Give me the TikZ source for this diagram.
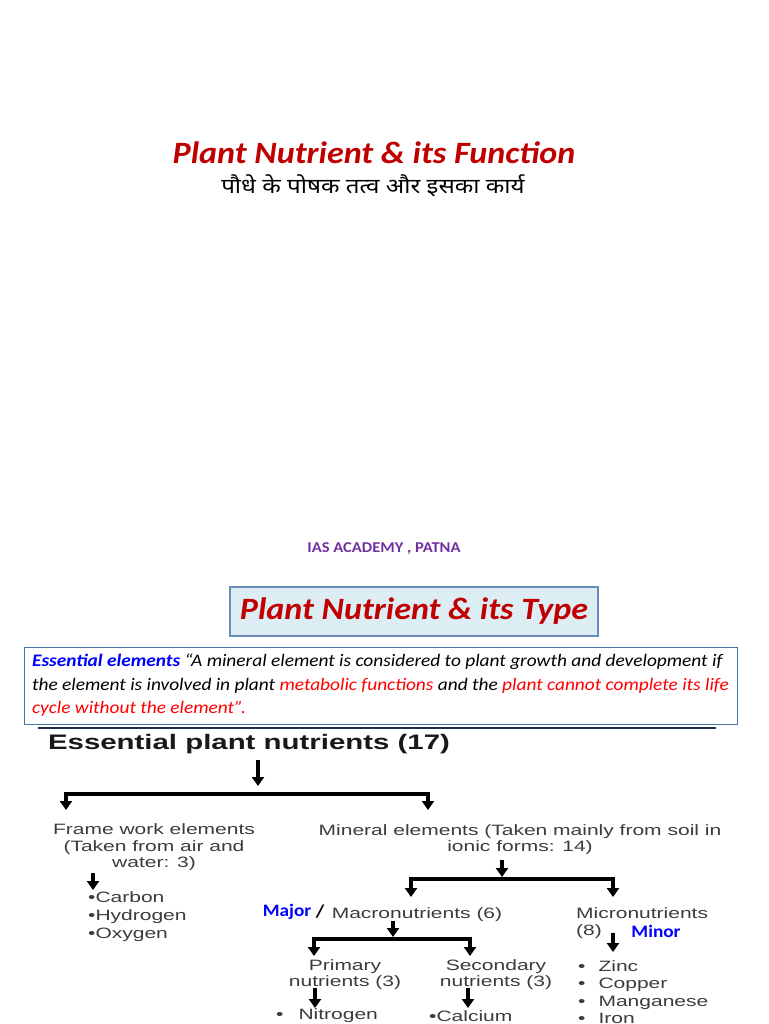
\documentclass[tikz,border=0pt]{standalone}
\usepackage{fontspec}
\setmainfont{Carlito}[FakeStretch=1.1]
\newfontfamily\arialw[FakeStretch=1.4]{Liberation Sans}
\newfontfamily\deva[Script=Devanagari,FakeStretch=1.15]{Noto Sans}
\usetikzlibrary{arrows.meta}
\definecolor{titlered}{HTML}{C00000}
\definecolor{purp}{HTML}{7030A0}
\definecolor{boxblue}{HTML}{6A8CB8}
\definecolor{boxfill}{HTML}{DCEEF4}
\definecolor{defblue}{HTML}{4A6FA5}
\definecolor{navy}{HTML}{1F3050}
\definecolor{eblue}{HTML}{0000FF}
\definecolor{ered}{HTML}{FF0000}
\definecolor{diag}{HTML}{3C3C3C}
\begin{document}
\begin{tikzpicture}[x=1pt,y=-1pt,
  dtext/.style={font=\arialw\fontsize{15}{16.5}\selectfont, text=diag, align=center, inner sep=0pt},
  dlist/.style={font=\arialw\fontsize{15}{17.3}\selectfont, text=diag, align=left, inner sep=0pt, anchor=west},
  bluelab/.style={font=\fontsize{17.5}{20}\selectfont\bfseries, text=eblue, inner sep=0pt},
  arr/.style={line width=3.2pt, -{Triangle[width=12pt,length=9pt]}},
  bar/.style={line width=3.2pt, line cap=rect},
]
\useasboundingbox (0,0) rectangle (768,1024);
\fill[white] (0,0) rectangle (768,1024);

% Title slide
\node[font=\fontsize{31}{36}\selectfont\bfseries\itshape, text=titlered] (title) at (374,153) {Plant Nutrient \& its Function};
\node[font=\deva\fontsize{21}{25}\selectfont] (hindi) at (373,186) {पौधे के पोषक तत्व और इसका कार्य};
\node[font=\fontsize{15}{18}\selectfont\bfseries, text=purp] (ias) at (384,549) {IAS ACADEMY , PATNA};

% Type box
\node[draw=boxblue, line width=1.2pt, fill=boxfill, minimum width=368pt, minimum height=49pt,
      font=\fontsize{31}{36}\selectfont\bfseries\itshape, text=titlered] (type) at (414,611.5) {Plant Nutrient \& its Type};

% Definition box
\node[draw=defblue, line width=0.8pt, align=left, inner sep=0pt, minimum width=713pt, minimum height=77pt,
      font=\fontsize{17.6}{23.5}\selectfont\itshape] (def) at (380.5,685.5)
 {{\bfseries\color{eblue}Essential elements} “A mineral element is considered to plant growth and development if\\
  the element is involved in plant {\color{ered}metabolic functions} and the {\color{ered}plant cannot complete its life}\\
  {\color{ered}cycle without the element”.}};
\draw[line width=2pt, navy] ([xshift=14pt,yshift=-3.5pt]def.south west) -- ([xshift=-21pt,yshift=-3.5pt]def.south east);

% Diagram
\node[font=\arialw\fontsize{21}{24}\selectfont\bfseries, text=black!90, inner sep=0pt] (ess) at (249,744) {Essential plant nutrients (17)};
\coordinate (e1) at (258,760); \coordinate (e2) at (258,786);
\draw[arr] (e1) -- (e2);
\coordinate (bl) at (66,794); \coordinate (br) at (428,794);
\coordinate (bl2) at (66,810); \coordinate (br2) at (428,810);
\draw[bar] (bl) -- (br);
\draw[arr] (bl) -- (bl2);
\draw[arr] (br) -- (br2);

\node[dtext] (frame) at (154,847.5) {Frame work elements\\(Taken from air and\\water: 3)};
\coordinate (f1) at (93,873); \coordinate (f2) at (93,890);
\draw[arr] (f1) -- (f2);
\node[dlist, font=\arialw\fontsize{15}{18}\selectfont] (fwlist) at (88,917) {•Carbon\\•Hydrogen\\•Oxygen};

\node[dtext] (min) at (520,839.5) {Mineral elements (Taken mainly from soil in\\ionic forms: 14)};
\coordinate (m1) at (502,860); \coordinate (m2) at (502,877);
\draw[arr] (m1) -- (m2);
\coordinate (ml) at (411,879); \coordinate (mr) at (613,879);
\coordinate (ml2) at (411,897); \coordinate (mr2) at (613,897);
\draw[bar] (ml) -- (mr);
\draw[arr] (ml) -- (ml2);
\draw[arr] (mr) -- (mr2);

\node[bluelab] (major) at (287,912) {Major};
\node[font=\fontsize{18}{20}\selectfont\bfseries, inner sep=0pt] (slash) at (320,912) {/};
\node[dtext] (macro) at (417,915) {Macronutrients (6)};
\node[dtext, align=left, anchor=west] (micro) at (576,923) {Micronutrients\\(8)};
\node[bluelab] (minor) at (656,931) {Minor};

\coordinate (a1) at (393,921); \coordinate (a2) at (393,937);
\draw[arr] (a1) -- (a2);
\coordinate (al) at (314,939); \coordinate (ar) at (470,939);
\coordinate (al2) at (314,956); \coordinate (ar2) at (470,956);
\draw[bar] (al) -- (ar);
\draw[arr] (al) -- (al2);
\draw[arr] (ar) -- (ar2);

\coordinate (c1) at (613,933); \coordinate (c2) at (613,952);
\draw[arr] (c1) -- (c2);
\node[dlist] (microlist) at (578,992) {•\hspace{13pt}Zinc\\•\hspace{13pt}Copper\\•\hspace{13pt}Manganese\\•\hspace{13pt}Iron};

\node[dtext, font=\arialw\fontsize{15}{15.5}\selectfont] (prim) at (345,974.5) {Primary\\nutrients (3)};
\node[dtext, font=\arialw\fontsize{15}{15.5}\selectfont] (sec) at (496,974.5) {Secondary\\nutrients (3)};
\coordinate (p1) at (315,988); \coordinate (p2) at (315,1008);
\coordinate (s1) at (468,988); \coordinate (s2) at (468,1008);
\draw[arr] (p1) -- (p2);
\draw[arr] (s1) -- (s2);
\node[dlist] (nitro) at (276,1016) {•\hspace{15pt}Nitrogen};
\node[dlist] (calc) at (429,1016) {•Calcium};
\end{tikzpicture}
\end{document}
